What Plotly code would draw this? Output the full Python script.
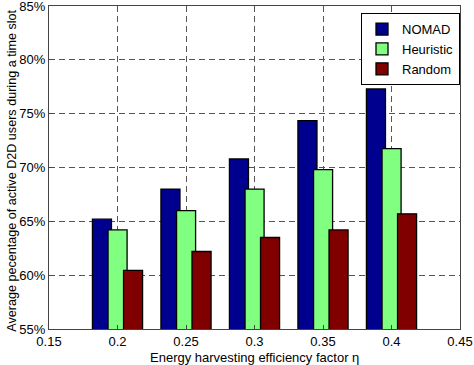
import plotly.graph_objects as go

eta = [0.2, 0.25, 0.3, 0.35, 0.4]
nomad = [65.2, 68.0, 70.8, 74.35, 77.3]
heuristic = [64.2, 66.0, 68.0, 69.8, 71.75]
random_ = [60.45, 62.2, 63.5, 64.2, 65.7]
series_names = ["NOMAD", "Heuristic", "Random"]
x_ticks = [0.15, 0.2, 0.25, 0.3, 0.35, 0.4, 0.45]
x_tick_text = ["0.15", "0.2", "0.25", "0.3", "0.35", "0.4", "0.45"]
y_ticks = [55, 60, 65, 70, 75, 80, 85]
y_tick_text = ["55%", "60%", "65%", "70%", "75%", "80%", "85%"]

colors = ["#00008F", "#80FF80", "#800000"]
offsets = [-0.0183, -0.0069, 0.0044]
bw = 0.0139

fig = go.Figure()
for name, vals, c, off in zip(series_names, [nomad, heuristic, random_], colors, offsets):
    fig.add_trace(go.Bar(
        x=eta, y=vals, name=name, marker_color=c,
        marker_line_color="black", marker_line_width=1.3,
        width=bw, offset=off,
    ))

font = "Liberation Sans, Arial, sans-serif"
fig.update_layout(
    width=474, height=365,
    margin=dict(l=49, r=14, t=6, b=36, autoexpand=False),
    barmode="overlay",
    paper_bgcolor="white", plot_bgcolor="white",
    font=dict(family=font, size=13, color="black"),
    showlegend=True,
    legend=dict(
        x=1, xanchor="right", y=0.978, yanchor="top",
        bgcolor="white", bordercolor="black", borderwidth=1,
        font=dict(size=13, family=font), tracegroupgap=0,
        itemwidth=30,
    ),
    xaxis=dict(
        range=[0.15, 0.45], tickmode="array", tickvals=x_ticks, ticktext=x_tick_text,
        showgrid=True, gridcolor="#555555", griddash="6px,4px", gridwidth=1,
        showline=True, linecolor="#444444", linewidth=1, mirror=True,
        ticks="inside", ticklen=4, tickcolor="#444444",
        zeroline=False, automargin=False, ticklabeloverflow="allow",
        tickfont=dict(size=13),
    ),
    yaxis=dict(
        range=[55, 85], tickmode="array", tickvals=y_ticks, ticktext=y_tick_text,
        showgrid=True, gridcolor="#555555", griddash="6px,4px", gridwidth=1,
        showline=True, linecolor="#444444", linewidth=1, mirror=True,
        ticks="inside", ticklen=4, tickcolor="#444444",
        zeroline=False, automargin=False, ticklabeloverflow="allow",
        tickfont=dict(size=13),
    ),
    annotations=[
        dict(text="Energy harvesting efficiency factor η", xref="paper", yref="paper",
             x=0.5, y=-0.087, xanchor="center", yanchor="middle", showarrow=False,
             font=dict(size=13, family=font)),
        dict(text="Average pecentage of active D2D users during a time slot",
             xref="paper", yref="paper", x=-0.09, y=0.49, textangle=-90,
             xanchor="center", yanchor="middle", showarrow=False,
             font=dict(size=12.6, family=font)),
    ],
)

fig.write_html(
    "out.html",
    config={"displayModeBar": False},
    post_script="document.body.style.margin='0';document.body.style.overflow='hidden';",
)
